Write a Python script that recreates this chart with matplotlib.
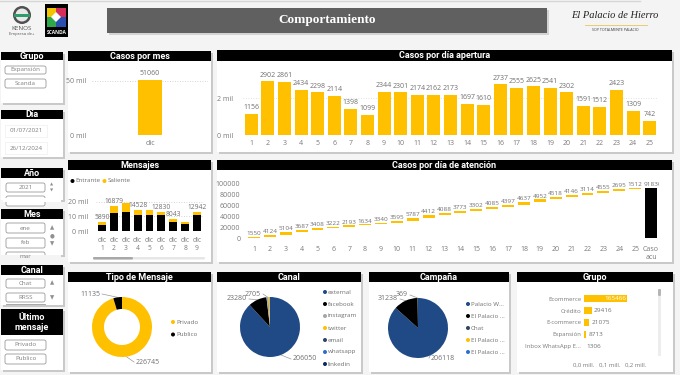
import numpy as np
import matplotlib
matplotlib.use('Agg')
import matplotlib.pyplot as plt
from matplotlib.patches import Rectangle, FancyBboxPatch, Circle, Polygon

# ---- data ----
mes_cats = ['dic']
mes_vals = [51060]

apertura_dias = list(range(1, 26))
apertura_vals = [1156, 2902, 2861, 2434, 2298, 2114, 1398, 1099, 2344, 2301, 2174, 2162, 2173,
                 1697, 1610, 2737, 2555, 2625, 2541, 2302, 1591, 1512, 2423, 1309, 742]

msg_dias = ['dic\n1', 'dic\n2', 'dic\n3', 'dic\n4', 'dic\n5', 'dic\n6', 'dic\n7', 'dic\n8', 'dic\n9']
msg_entrante = [4100, 12300, 13200, 11100, 11100, 10700, 6400, 5000, 10700]
msg_saliente = [1790, 4579, 5700, 3428, 3200, 2130, 1643, 1100, 2242]
msg_labels = [5890, 16879, None, 14528, None, 12830, 8043, None, 12942]

atencion_dias = [str(d) for d in range(1, 26)] + ['Caso\nacu']
atencion_vals = [1550, 4124, 5104, 3687, 3408, 3222, 2193, 1634, 3340, 3595, 5787, 4412, 4088,
                 3773, 3302, 4085, 4397, 4637, 4952, 4518, 4146, 3114, 4555, 2695, 1512]

tipo_cats = ['Privado', 'Publico']
tipo_vals = [226745, 11135]

canal_cats = ['external', 'facebook', 'instagram', 'twitter', 'email', 'whatsapp', 'linkedin']
canal_vals = [206050, 23280, 2705, 1500, 120, 60, 30]

camp_cats = ['Palacio W...', 'El Palacio ...', 'Chat', 'El Palacio ...', 'El Palacio ...']
camp_vals = [206118, 31238, 369, 100, 55]

grupo_cats = ['Ecommerce', 'Crédito', 'E-commerce', 'Expansión', 'Inbox WhatsApp E...']
grupo_vals = [165466, 29416, 21075, 8713, 1306]

# ---- style ----
W, H = 680, 375
YEL = '#FFC000'
GRAY = '#707070'
NAVY = '#1F4A85'
canal_colors = [NAVY, '#000000', '#A6A6A6', YEL, '#2F4560', '#2E6FC8', '#0E2A63']
camp_colors = [NAVY, '#000000', '#2F4560', YEL, '#2E6FC8']
plt.rcParams['font.family'] = ['Open Sans', 'DejaVu Sans']

fig = plt.figure(figsize=(W / 100, H / 100), dpi=100)
fig.patch.set_facecolor('#f4f4f4')

bg = fig.add_axes([0, 0, 1, 1])
bg.set_xlim(0, W)
bg.set_ylim(H, 0)
bg.axis('off')


def ax_at(x0, y0, x1, y1):
    a = fig.add_axes([x0 / W, 1 - y1 / H, (x1 - x0) / W, (y1 - y0) / H])
    a.patch.set_alpha(0)
    return a


def panel(x0, y0, x1, y1, title, hh=10):
    bg.add_patch(Rectangle((x0 + 1.5, y0 + 1.5), x1 - x0, y1 - y0, fc='#c9c9c9', ec='none'))
    bg.add_patch(Rectangle((x0, y0), x1 - x0, y1 - y0, fc='white', ec='none'))
    bg.add_patch(Rectangle((x0, y0), x1 - x0, hh, fc='black', ec='none'))
    bg.text((x0 + x1) / 2, y0 + hh / 2 + 0.3, title, color='white', ha='center', va='center',
            fontsize=6.5, fontweight='bold', family='Roboto')


def button(x0, y0, x1, y1, txt):
    bg.add_patch(FancyBboxPatch((x0, y0), x1 - x0, y1 - y0, boxstyle='round,pad=0,rounding_size=2',
                                fc='white', ec='#9a9a9a', lw=0.6))
    if txt:
        bg.text((x0 + x1) / 2, (y0 + y1) / 2, txt, ha='center', va='center', fontsize=4.5, color='#808080')


def style(a, size=5):
    for s in a.spines.values():
        s.set_visible(False)
    a.tick_params(length=0, labelsize=size, colors='#7a7a7a')


# ---- header ----
bg.plot([0, 640], [1, 1], color='#d6d6d6', lw=1)
bg.add_patch(Rectangle((109, 10), 440, 25, fc='#bdbdbd', ec='none', alpha=0.6))
bg.add_patch(Rectangle((107, 8), 440, 25, fc='#606060', ec='none'))
bg.text(327, 20.5, 'Comportamiento', color='white', ha='center', va='center', fontsize=9.5,
        fontweight='bold', family='Liberation Serif')

# KENOS logo
bg.add_patch(Circle((22, 15), 9, fc='#505050', ec='none'))
bg.add_patch(Circle((22, 15), 6.5, fc='#e9e9e9', ec='none'))
bg.add_patch(Rectangle((14, 14), 16, 3, fc='#2e9d6a', ec='none'))
bg.text(22, 28, 'KENOS', ha='center', va='center', fontsize=4.5, color='#555555')
bg.text(22, 34, 'Empresa de+', ha='center', va='center', fontsize=3, color='#555555')
# Scanda logo
bg.add_patch(Rectangle((45, 4), 23, 33, fc='black', ec='none'))
bg.add_patch(Polygon([[47, 8], [56, 8], [56, 17], [47, 17]], fc='#f2c500', ec='none'))
bg.add_patch(Polygon([[56, 8], [66, 8], [66, 17], [56, 17]], fc='#d62d5a', ec='none'))
bg.add_patch(Polygon([[47, 17], [56, 17], [56, 27], [47, 27]], fc='#2ea84a', ec='none'))
bg.add_patch(Polygon([[56, 17], [66, 17], [66, 27], [56, 27]], fc='#2a4fb0', ec='none'))
bg.add_patch(Polygon([[56, 12], [61, 17], [56, 22], [51, 17]], fc='white', ec='none'))
bg.text(56.5, 32, 'SCANDA', ha='center', va='center', fontsize=3.5, color='white', fontweight='bold')
# Palacio de Hierro logo
bg.text(615, 16, 'El Palacio de Hierro', ha='center', va='center', fontsize=7.5, style='italic',
        family='Liberation Serif', color='#222222')
bg.plot([585, 647], [25, 25], color='#e8c65a', lw=0.6)
bg.text(615, 30, 'SOY TOTALMENTE PALACIO', ha='center', va='center', fontsize=2.6, color='#333333')

# ---- left slicers ----
panel(1, 52, 63, 103, 'Grupo', hh=8)
button(5, 66, 46, 74, 'Expansión')
button(5, 79, 46, 88, 'Scanda')

panel(1, 110, 63, 157, 'Día', hh=9)
for yy, t in [(131, '01/07/2021'), (148, '26/12/2024')]:
    bg.add_patch(Rectangle((5, yy - 6), 42, 12, fc='white', ec='#eeeeee', lw=0.5))
    bg.text(26, yy, t, ha='center', va='center', fontsize=4.5, color='#808080')

panel(1, 168, 63, 200, 'Año', hh=10)
button(6, 183, 45, 192, '2021')
button(6, 196, 45, 206, '')
bg.add_patch(Rectangle((3, 198), 58, 4, fc='white', ec='none'))
bg.text(52, 184, '▲', ha='center', va='center', fontsize=3, color='#909090')
bg.text(52, 191, '▼', ha='center', va='center', fontsize=3, color='#909090')

panel(1, 209, 63, 255, 'Mes', hh=10)
button(6, 223, 45, 233, 'ene')
button(6, 238, 45, 248, 'feb')
button(6, 252, 45, 262, 'mar')
bg.add_patch(Rectangle((3, 255), 58, 9, fc='#f4f4f4', ec='none'))
bg.text(52, 228, '▲', ha='center', va='center', fontsize=4, color='#909090')
bg.text(52, 236, '●', ha='center', va='center', fontsize=4, color='#909090')
bg.text(52, 244, '▼', ha='center', va='center', fontsize=4, color='#909090')

panel(1, 265, 63, 305, 'Canal', hh=10)
button(6, 279, 45, 288, 'Chat')
button(6, 293, 45, 302, 'RRSS')
bg.plot([6, 45], [304, 304], color='#9a9a9a', lw=0.6)
bg.text(52, 283, '▲', ha='center', va='center', fontsize=4, color='#909090')
bg.text(52, 298, '▼', ha='center', va='center', fontsize=4, color='#909090')

panel(1, 309, 63, 370, 'Último\nmensaje', hh=26)
button(5, 340, 46, 350, 'Privado')
button(5, 354, 46, 364, 'Publico')

# ---- Casos por mes ----
panel(68, 51, 211, 152, 'Casos por mes')
ax = ax_at(92, 64, 208, 135)
style(ax)
ax.bar(mes_cats, mes_vals, width=0.215, color=YEL, zorder=3)
ax.set_xlim(-0.5, 0.5)
ax.set_ylim(0, 65700)
ax.set_yticks([0, 50000])
ax.set_yticklabels(['0 mil', '50 mil'])
ax.tick_params(axis='y', pad=4)
ax.yaxis.grid(True, ls=(0, (1, 2)), color='#c8c8c8', lw=0.6)
for i, v in enumerate(mes_vals):
    ax.text(i, v + 3000, str(v), ha='center', va='bottom', fontsize=5, color=GRAY)

# ---- Casos por día apertura ----
panel(217, 50, 672, 152, 'Casos por día apertura', hh=11)
ax = ax_at(243, 66, 658, 135)
style(ax)
ax.bar(apertura_dias, apertura_vals, width=0.78, color=YEL, zorder=3)
ax.set_xlim(0.5, 25.5)
ax.set_ylim(0, 3730)
ax.set_xticks(apertura_dias)
ax.set_yticks([0, 2000])
ax.set_yticklabels(['0 mil', '2 mil'])
ax.tick_params(axis='y', pad=7)
ax.yaxis.grid(True, ls=(0, (1, 2)), color='#d8d8d8', lw=0.6)
for d, v in zip(apertura_dias, apertura_vals):
    ax.text(d, v + 150, str(v), ha='center', va='bottom', fontsize=5, color=GRAY)

# ---- Mensajes ----
panel(68, 160, 211, 262, 'Mensajes')
bg.add_patch(Circle((72.5, 181), 2, fc='black', ec='none'))
bg.text(75.5, 181, 'Entrante', va='center', fontsize=4.5, color=GRAY)
bg.add_patch(Circle((104.5, 181), 2, fc=YEL, ec='none'))
bg.text(107.5, 181, 'Saliente', va='center', fontsize=4.5, color=GRAY)
ax = ax_at(96, 193, 203, 231)
style(ax)
xs = np.arange(1, len(msg_dias) + 1)
ax.bar(xs, msg_entrante, width=0.67, color='black', zorder=3)
ax.bar(xs, msg_saliente, bottom=msg_entrante, width=0.67, color=YEL, zorder=3)
ax.set_xlim(0.5, 9.5)
ax.set_ylim(0, 25800)
ax.set_xticks(xs)
ax.set_xticklabels(msg_dias, linespacing=1.35)
ax.tick_params(axis='x', labelsize=4.8, pad=4)
ax.set_yticks([0, 10000, 20000])
ax.set_yticklabels(['0 mil', '10 mil', '20 mil'])
ax.tick_params(axis='y', pad=6)
ax.yaxis.grid(True, ls=(0, (1, 2)), color='#c8c8c8', lw=0.6)
for x, e, s, lab in zip(xs, msg_entrante, msg_saliente, msg_labels):
    if lab is not None:
        ax.text(x, e + s + 600, str(lab), ha='center', va='bottom', fontsize=4.8, color=GRAY)
bg.add_patch(FancyBboxPatch((93, 257), 112, 2.5, boxstyle='round,pad=0,rounding_size=1.2',
                            fc='#e6e6e6', ec='none'))
bg.add_patch(FancyBboxPatch((93, 257), 40, 2.5, boxstyle='round,pad=0,rounding_size=1.2',
                            fc='#a8a8a8', ec='none'))

# ---- Casos por día de atención (waterfall) ----
panel(217, 160, 672, 262, 'Casos por día de atención')
ax = ax_at(246, 180, 659, 238)
style(ax)
cum = np.cumsum(atencion_vals)
bottoms = cum - np.array(atencion_vals)
xs = np.arange(1, len(atencion_vals) + 1)
ax.bar(xs, atencion_vals, bottom=bottoms, width=0.75, color=YEL, zorder=3)
total = int(cum[-1])
ax.bar([len(atencion_vals) + 1], [total], width=0.75, color='black', zorder=3)
ax.set_xlim(0.5, 26.5)
ax.set_ylim(0, 107000)
ax.set_xticks(np.arange(1, 27))
ax.set_xticklabels(atencion_dias, linespacing=1.2)
ax.tick_params(axis='x', pad=6)
ax.set_yticks(np.arange(0, 100001, 20000))
ax.tick_params(axis='y', pad=4)
for x, c, v in zip(xs, cum, atencion_vals):
    ax.text(x, c + 1500, str(v), ha='center', va='bottom', fontsize=4.6, color=GRAY)
ax.text(26.1, total + 1500, str(total), ha='center', va='bottom', fontsize=4.6, color=GRAY,
        clip_on=True)


# ---- pies ----
def pie_label(cx, cy, r, vals, idx, tx, ty, side):
    tot = float(sum(vals))
    mid = (sum(vals[:idx]) + vals[idx] / 2.0) / tot * 2 * np.pi
    px = cx + r * np.sin(mid)
    py = cy - r * np.cos(mid)
    ex = tx + (2 if side == 'left' else -2)
    bg.plot([px, ex], [py, ty], color='#9a9a9a', lw=0.5)
    bg.text(tx, ty, str(vals[idx]), ha='right' if side == 'left' else 'left', va='center',
            fontsize=5, color=GRAY)


def legend(x, y0, step, cats, colors):
    for i, (c, col) in enumerate(zip(cats, colors)):
        bg.add_patch(Circle((x, y0 + i * step), 2, fc=col, ec='none'))
        bg.text(x + 3, y0 + i * step, c, va='center', fontsize=4.5, color=GRAY)


panel(68, 272, 211, 372, 'Tipo de Mensaje')
ax = ax_at(92, 297, 152, 357)
ax.pie(tipo_vals, colors=[YEL, 'black'], startangle=90, counterclock=False,
       wedgeprops=dict(width=0.4, linewidth=0))
ax.set_xlim(-1, 1)
ax.set_ylim(-1, 1)
pie_label(122, 327, 30, tipo_vals, 1, 100, 294, 'left')
pie_label(122, 327, 30, tipo_vals, 0, 136, 362, 'right')
legend(173, 322, 12.5, tipo_cats, [YEL, 'black'])

panel(217, 272, 361, 372, 'Canal')
ax = ax_at(240, 297, 300, 357)
ax.pie(canal_vals, colors=canal_colors, startangle=90, counterclock=False,
       wedgeprops=dict(linewidth=0))
ax.set_xlim(-1, 1)
ax.set_ylim(-1, 1)
pie_label(270, 327, 30, canal_vals, 1, 247, 299, 'left')
pie_label(270, 327, 30, canal_vals, 2, 261, 294, 'left')
pie_label(270, 327, 30, canal_vals, 0, 293, 359, 'right')
legend(325, 292, 12, canal_cats, canal_colors)

panel(369, 272, 509, 372, 'Campaña')
ax = ax_at(388, 298, 448, 358)
ax.pie(camp_vals, colors=camp_colors, startangle=90, counterclock=False,
       wedgeprops=dict(linewidth=0))
ax.set_xlim(-1, 1)
ax.set_ylim(-1, 1)
pie_label(418, 328, 30, camp_vals, 1, 398, 299, 'left')
pie_label(418, 328, 30, camp_vals, 2, 408, 295, 'left')
pie_label(418, 328, 30, camp_vals, 0, 431, 358, 'right')
legend(468, 304, 12, camp_cats, camp_colors)

# ---- Grupo ----
panel(517, 272, 673, 372, 'Grupo')
ax = ax_at(584, 293, 650, 352)
style(ax, size=4.3)
ys = np.arange(len(grupo_cats))
ax.barh(ys, grupo_vals, height=0.6, color=YEL, zorder=3)
ax.set_ylim(len(grupo_cats) - 0.5, -0.5)
ax.set_xlim(0, 254000)
ax.set_yticks(ys)
ax.set_yticklabels(grupo_cats)
ax.tick_params(axis='y', pad=2)
ax.set_xticks([0, 100000, 200000])
ax.set_xticklabels(['0,0 mill.', '0,1 mill.', '0,2 mill.'])
ax.tick_params(axis='x', pad=8)
for y, v in zip(ys, grupo_vals):
    if v > 100000:
        ax.text(v - 2500, y, str(v), ha='right', va='center', fontsize=4.6, color='white')
    else:
        ax.text(v + 9000, y, str(v), ha='left', va='center', fontsize=4.6, color=GRAY)
bg.add_patch(Rectangle((658, 289), 3, 67, fc='#ededed', ec='none'))
bg.add_patch(FancyBboxPatch((658, 289), 3, 7, boxstyle='round,pad=0,rounding_size=1.2',
                            fc='#b5b5b5', ec='none'))

fig.savefig('out.png', dpi=100, facecolor=fig.get_facecolor())
